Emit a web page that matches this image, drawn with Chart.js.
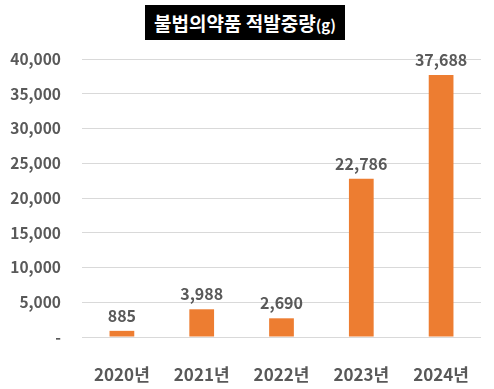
<!DOCTYPE html>
<html>
<head>
<meta charset="utf-8">
<script src="https://cdn.jsdelivr.net/npm/chart.js@4"></script>
<style>
  body { margin: 0; background: #fff; }
  #wrap { position: relative; width: 494px; height: 389px; }
  #title {
    position: absolute; left: 145px; top: 5px; width: 200px; height: 35px;
    background: #000; color: #fff; text-align: center;
    font: bold 19px "Noto Sans CJK KR", sans-serif; line-height: 35px;
  }
  #title span { font-size: 15px; }
</style>
</head>
<body>
<div id="wrap">
  <canvas id="chart" width="494" height="389"></canvas>
  <div id="title">불법의약품 적발중량<span>(g)</span></div>
</div>
<script>
var years = ['2020년', '2021년', '2022년', '2023년', '2024년'];
var weights = [885, 3988, 2690, 22786, 37688];
var yTicks = [0, 5000, 10000, 15000, 20000, 25000, 30000, 35000, 40000];

var barColor = '#ED7D31';
var textColor = '#595959';
var fontFamily = '"Noto Sans CJK KR", sans-serif';

var valueLabels = {
    id: 'valueLabels',
    afterDatasetsDraw: function (chart) {
        var ctx = chart.ctx;
        var meta = chart.getDatasetMeta(0);
        ctx.save();
        ctx.font = 'bold 16px ' + fontFamily;
        ctx.fillStyle = textColor;
        ctx.textAlign = 'center';
        ctx.textBaseline = 'middle';
        meta.data.forEach(function (bar, i) {
            ctx.fillText(weights[i].toLocaleString('en-US'), bar.x, bar.y - 15);
        });
        ctx.restore();
    }
};

var ctx = document.getElementById('chart').getContext('2d');
new Chart(ctx, {
    type: 'bar',
    data: {
        labels: years,
        datasets: [{
            data: weights,
            backgroundColor: barColor,
            barPercentage: 0.62,
            categoryPercentage: 0.5
        }]
    },
    options: {
        responsive: false,
        animation: false,
        layout: { padding: { top: 59, right: 13, bottom: 0, left: 0 } },
        plugins: {
            legend: { display: false },
            tooltip: { enabled: false }
        },
        scales: {
            x: {
                grid: { display: false },
                border: { display: false },
                ticks: {
                    color: textColor,
                    font: { family: fontFamily, size: 17, weight: 'bold' },
                    padding: 19
                },
                afterFit: function (scale) { scale.height = 52; }
            },
            y: {
                min: 0,
                max: 40000,
                afterBuildTicks: function (scale) {
                    scale.ticks = yTicks.map(function (v) { return { value: v }; });
                },
                grid: { color: '#d9d9d9', drawTicks: false },
                border: { display: false },
                ticks: {
                    color: textColor,
                    font: { family: fontFamily, size: 15.5, weight: 'bold' },
                    padding: 21,
                    callback: function (v) { return v === 0 ? '-' : v.toLocaleString('en-US'); }
                },
                afterFit: function (scale) { scale.width = 82; }
            }
        }
    },
    plugins: [valueLabels]
});
</script>
</body>
</html>
